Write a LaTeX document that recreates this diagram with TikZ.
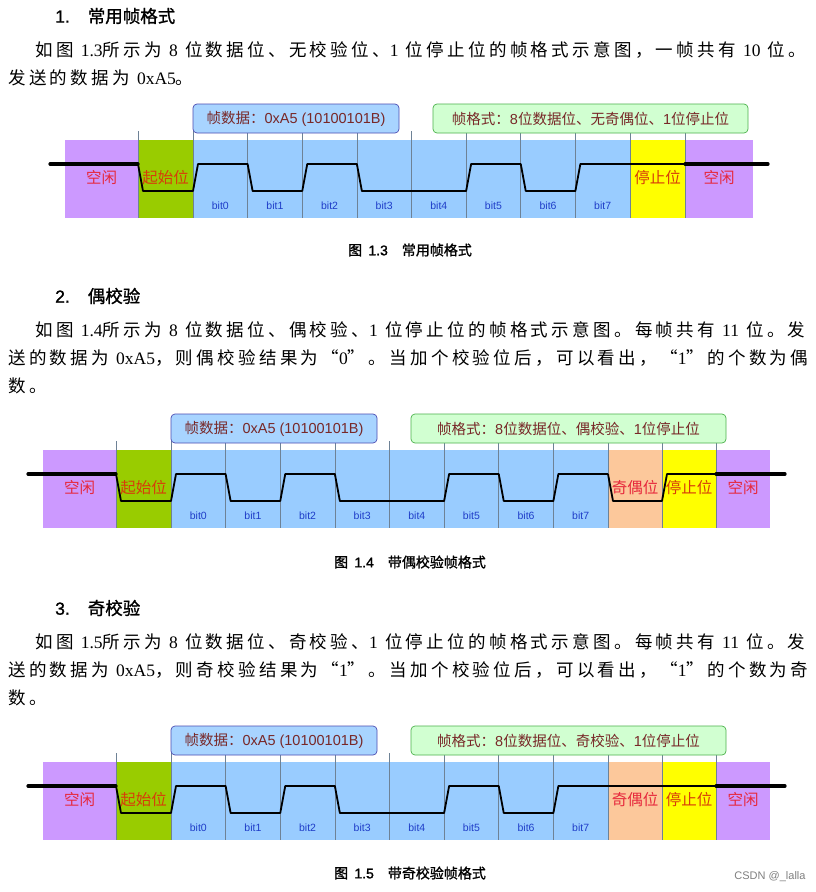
\documentclass[tikz,border=0pt]{standalone}
\usepackage{fontspec}
\setmainfont{Noto Sans CJK SC}
\newfontfamily\lat{Liberation Serif}
\newfontfamily\sans{Liberation Sans}
\newfontfamily\sansbold[FakeBold=1.2]{Liberation Sans}
\newfontfamily\cjk{Noto Sans CJK SC}
\newfontfamily\cjkbold[FakeBold=1.2]{Noto Sans CJK SC}
\newfontfamily\cjkwide[LetterSpace=19]{Noto Sans CJK SC}
\definecolor{idle}{RGB}{204,153,255}
\definecolor{startc}{RGB}{153,204,0}
\definecolor{bitc}{RGB}{153,204,255}
\definecolor{stopc}{RGB}{255,255,0}
\definecolor{parc}{RGB}{252,200,155}
\definecolor{redtxt}{RGB}{230,40,60}
\definecolor{orgtxt}{RGB}{215,60,10}
\definecolor{bluetxt}{RGB}{30,60,200}
\definecolor{boxtxt}{RGB}{120,40,40}
\definecolor{sepc}{RGB}{110,130,150}
\newcommand\LT[1]{{\lat #1}}
\tikzset{
  body/.style={anchor=west,inner sep=0pt,font=\cjkwide\fontsize{17.5}{19}\selectfont},
  head/.style={anchor=west,inner sep=0pt,font=\fontsize{17.5}{19}\selectfont},
  captext/.style={inner sep=0pt,font=\cjkbold\fontsize{14}{16}\selectfont},
  cell/.style={inner sep=0pt,font=\fontsize{15.5}{17}\selectfont},
  bitl/.style={inner sep=0pt,text=bluetxt,font=\sans\fontsize{10.5}{12}\selectfont},
  sep/.style={draw=sepc,line width=0.6pt},
  wave/.style={line width=1.8pt,line join=round},
  idlewave/.style={line width=3.2pt,line cap=round},
  databox/.style={draw=blue!40!gray,fill=bitc!85!white,rounded corners=4pt,line width=0.7pt},
  fmtbox/.style={draw=green!40!gray,fill=green!18!white,rounded corners=4pt,line width=0.7pt},
  boxtext/.style={inner sep=0pt,text=boxtxt,font=\fontsize{14.5}{16}\selectfont},
}
% #1 yshift, #2 left idle x, #3 parity (0 none,1 even,2 odd), #4 data text, #5 format text, #6 name suffix
\newcommand\uartframe[6]{%
\begin{scope}[shift={(0,#1)}]
\pgfmathsetmacro\xa{#2}
\pgfmathsetmacro\xb{#2+73}
\pgfmathsetmacro\xc{\xb+55}
\pgfmathsetmacro\xe{\xc+437}
\ifnum#3=0
  \pgfmathsetmacro\xs{\xe}\pgfmathsetmacro\xi{\xe+55}\pgfmathsetmacro\xz{\xe+123}
\else
  \pgfmathsetmacro\xs{\xe+54}\pgfmathsetmacro\xi{\xe+108}\pgfmathsetmacro\xz{\xe+162}
\fi
\fill[idle] (\xa,0) rectangle (\xb,78);
\fill[startc] (\xb,0) rectangle (\xc,78);
\fill[bitc] (\xc,0) rectangle (\xe,78);
\ifnum#3>0 \fill[parc] (\xe,0) rectangle (\xs,78); \fi
\fill[stopc] (\xs,0) rectangle (\xi,78);
\fill[idle] (\xi,0) rectangle (\xz,78);
\foreach \x in {\xb,\xc,\xe,\xs,\xi} \draw[sep] (\x,-9) -- (\x,78);
\foreach \i in {1,...,7} \draw[sep] ({\xc+54.625*\i},-9) -- ({\xc+54.625*\i},78);
\foreach \i in {0,...,7} \node[bitl] (b\i#6) at ({\xc+54.625*(\i+0.5)},66) {bit\i};
\node[cell,text=redtxt] (idleL#6) at ({(\xa+\xb)/2},38) {空闲};
\node[cell,text=orgtxt] (start#6) at ({(\xb+\xc)/2},38) {起始位};
\ifnum#3>0 \node[cell,text=redtxt] (par#6) at ({(\xe+\xs)/2},38) {奇偶位}; \fi
\node[cell,text=orgtxt] (stop#6) at ({(\xs+\xi)/2},38) {停止位};
\node[cell,text=redtxt] (idleR#6) at ({(\xi+\xz)/2},38) {空闲};
\draw[idlewave] ({\xa-15},24) -- (\xb,24);
\ifnum#3=1
\draw[wave] (\xe,24) -- ({\xe+5},51) -- (\xs,51) -- ({\xs+5},24) -- (\xi,24);
\else
\draw[wave] (\xe,24) -- (\xi,24);
\fi
\draw[wave] (\xb,24) -- ({\xb+5},51) -- (\xc,51) -- ({\xc+5},24)
  -- ({\xc+54.625},24) -- ({\xc+54.625+5},51)
  -- ({\xc+54.625*2},51) -- ({\xc+54.625*2+5},24)
  -- ({\xc+54.625*3},24) -- ({\xc+54.625*3+5},51)
  -- ({\xc+54.625*5},51) -- ({\xc+54.625*5+5},24)
  -- ({\xc+54.625*6},24) -- ({\xc+54.625*6+5},51)
  -- ({\xc+54.625*7},51) -- ({\xc+54.625*7+5},24) -- (\xe,24);
\draw[idlewave] (\xi,24) -- ({\xz+15},24);
\draw[databox] (\xc,-36) rectangle ({\xc+206},-7);
\node[boxtext] (data#6) at ({\xc+103},-21.5) {#4};
\draw[fmtbox] ({\xc+240},-36) rectangle ({\xc+555},-7);
\node[boxtext] (fmt#6) at ({\xc+397.5},-21.5) {#5};
\end{scope}}
\newcommand\datatext{帧数据：\sans 0xA5\ (10100101B)}
\begin{document}
\begin{tikzpicture}[x=1pt,y=-1pt]
\useasboundingbox[fill=white] (0,0) rectangle (815,892);
% section 1
\node[head] (h1) at (55,16) {\sansbold 1.\hspace{18pt}\cjkbold 常用帧格式};
\node[body] (p1a) at (35,50) {如图 \LT{1.3}所示为 \LT{8} 位数据位、无校验位、\LT{1} 位停止位的帧格式示意图，一帧共有 \LT{10} 位。};
\node[body] (p1b) at (8,78) {发送的数据为 \LT{0xA5}。};
\uartframe{140}{65}{0}{\datatext}{帧格式：\sans 8\cjk 位数据位、无奇偶位、\sans 1\cjk 位停止位}{A}
\node[captext] (c1) at (410,250) {图 \ {\sansbold 1.3}\quad 常用帧格式};
% section 2
\node[head] (h2) at (55,296) {\sansbold 2.\hspace{18pt}\cjkbold 偶校验};
\node[body] (p2a) at (35,330) {如图 \LT{1.4}所示为 \LT{8} 位数据位、偶校验、\LT{1} 位停止位的帧格式示意图。每帧共有 \LT{11} 位。发};
\node[body] (p2b) at (8,358) {送的数据为 \LT{0xA5}，则偶校验结果为“\LT{0}”。当加个校验位后，可以看出，“\LT{1}”的个数为偶};
\node[body] (p2c) at (8,386) {数。};
\uartframe{450}{43}{1}{\datatext}{帧格式：\sans 8\cjk 位数据位、偶校验、\sans 1\cjk 位停止位}{B}
\node[captext] (c2) at (410,562) {图 \ {\sansbold 1.4}\quad 带偶校验帧格式};
% section 3
\node[head] (h3) at (55,608) {\sansbold 3.\hspace{18pt}\cjkbold 奇校验};
\node[body] (p3a) at (35,642) {如图 \LT{1.5}所示为 \LT{8} 位数据位、奇校验、\LT{1} 位停止位的帧格式示意图。每帧共有 \LT{11} 位。发};
\node[body] (p3b) at (8,670) {送的数据为 \LT{0xA5}，则奇校验结果为“\LT{1}”。当加个校验位后，可以看出，“\LT{1}”的个数为奇};
\node[body] (p3c) at (8,698) {数。};
\uartframe{762}{43}{2}{\datatext}{帧格式：\sans 8\cjk 位数据位、奇校验、\sans 1\cjk 位停止位}{C}
\node[captext] (c3) at (410,873) {图 \ {\sansbold 1.5}\quad 带奇校验帧格式};
\node[inner sep=0pt,text=gray,font=\sans\fontsize{11}{12}\selectfont] (wm) at (770,877) {CSDN @\_lalla};
\end{tikzpicture}
\end{document}
